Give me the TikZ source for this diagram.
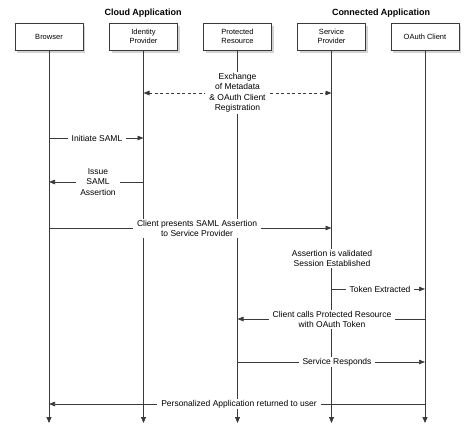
\documentclass[tikz,border=0pt]{standalone}
\usepackage{fontspec}
\setmainfont{Liberation Sans}
\usetikzlibrary{arrows.meta,shadows}
\definecolor{ln}{HTML}{3A3A3A}
\begin{document}
\begin{tikzpicture}[x=1pt,y=-1pt,
 actor/.style={draw=ln, line width=0.7pt, fill=white, minimum width=68pt, minimum height=27pt, inner sep=1pt, align=center, font=\fontsize{7.5}{9}\selectfont, drop shadow={shadow xshift=2pt,shadow yshift=-2.5pt,opacity=0.35}},
 life/.style={draw=ln, line width=0.8pt, -{Triangle[length=6pt,width=5pt]}},
 msg/.style={draw=ln, line width=0.7pt, -{Triangle[length=6pt,width=4.5pt]}},
 lbl/.style={fill=white, inner xsep=4pt, inner ysep=1pt, align=center, font=\fontsize{8.5}{10.5}\selectfont},
 ttl/.style={font=\bfseries\fontsize{9}{11}\selectfont}]
\useasboundingbox (0,0) rectangle (474,434);
% titles
\node[ttl] (tcloud) at (143,13) {Cloud Application};
\node[ttl] (tconn) at (381,13) {Connected Application};
% actors
\node[actor] (br) at (49,36.5) {Browser};
\node[actor] (idp) at (143.5,36.5) {Identity\\Provider};
\node[actor] (pr) at (237.5,36.5) {Protected\\Resource};
\node[actor] (sp) at (331.5,36.5) {Service\\Provider};
\node[actor] (oc) at (425,36.5) {OAuth Client};
% lifeline ends
\coordinate (bre) at (49,423);
\coordinate (idpe) at (143.5,423);
\coordinate (pre) at (237.5,423);
\coordinate (spe) at (331.5,423);
\coordinate (oce) at (425,423);
\draw[life] (br.south) -- (bre);
\draw[life] (idp.south) -- (idpe);
\draw[life] (pr.south) -- (pre);
\draw[life] (sp.south) -- (spe);
\draw[life] (oc.south) -- (oce);
% message anchor points
\coordinate (i0) at (143.5,93); \coordinate (s0) at (331.5,93);
\coordinate (b1) at (49,138); \coordinate (i1) at (143.5,138);
\coordinate (i2) at (143.5,182); \coordinate (b2) at (49,182);
\coordinate (b3) at (49,228); \coordinate (s3) at (331.5,228);
\coordinate (s4) at (331.5,289); \coordinate (o4) at (425,289);
\coordinate (o5) at (425,319); \coordinate (p5) at (237.5,319);
\coordinate (p6) at (237.5,362); \coordinate (o6) at (425,362);
\coordinate (o7) at (425,404); \coordinate (b7) at (49,404);
% messages
\draw[msg, dashed, dash pattern=on 3pt off 2.5pt, {Triangle[length=6pt,width=4.5pt]}-{Triangle[length=6pt,width=4.5pt]}] (i0) -- (s0);
\draw[msg] (b1) -- (i1);
\draw[msg] (i2) -- (b2);
\draw[msg] (b3) -- (s3);
\draw[msg] (s4) -- (o4);
\draw[msg] (o5) -- (p5);
\draw[msg] (p6) -- (o6);
\draw[msg] (o7) -- (b7);
% labels
\node[lbl] (l0) at (237.5,93) {Exchange\\of Metadata\\\& OAuth Client\\Registration};
\node[lbl] (l1) at (97,138) {Initiate SAML};
\node[lbl] (l2) at (98,182) {Issue\\SAML\\Assertion};
\node[lbl] (l3) at (197,228.5) {Client presents SAML Assertion\\to Service Provider};
\node[lbl] (l3b) at (332,258.5) {Assertion is validated\\Session Established};
\node[lbl] (l4) at (380,289) {Token Extracted};
\node[lbl] (l5) at (332,319.5) {Client calls Protected Resource\\with OAuth Token};
\node[lbl] (l6) at (337,362) {Service Responds};
\node[lbl] (l7) at (239,404) {Personalized Application returned to user};
\end{tikzpicture}
\end{document}
